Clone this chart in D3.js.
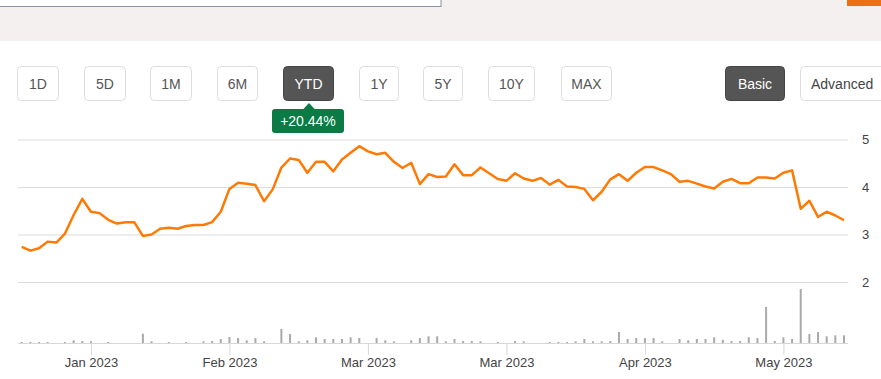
<!DOCTYPE html>
<html>
<head>
<meta charset="utf-8">
<script src="https://cdn.jsdelivr.net/npm/d3@7"></script>
<style>
  body { margin: 0; background: #fff; }
  svg { display: block; font-family: "Liberation Sans", Arial, sans-serif; }
</style>
</head>
<body>
<script>
// closing prices, one per trading session
var prices = [2.74, 2.66, 2.71, 2.85, 2.83, 3.02, 3.41, 3.75, 3.48, 3.45,
  3.31, 3.23, 3.26, 3.26, 2.97, 3.00, 3.12, 3.14, 3.12, 3.18,
  3.20, 3.20, 3.26, 3.48, 3.96, 4.09, 4.07, 4.04, 3.70, 3.95,
  4.41, 4.60, 4.57, 4.30, 4.53, 4.53, 4.33, 4.58, 4.72, 4.86,
  4.75, 4.69, 4.72, 4.53, 4.40, 4.51, 4.06, 4.27, 4.21, 4.22,
  4.48, 4.25, 4.25, 4.41, 4.29, 4.17, 4.13, 4.29, 4.18, 4.13,
  4.19, 4.05, 4.15, 4.01, 4.00, 3.96, 3.72, 3.90, 4.16, 4.27,
  4.13, 4.30, 4.42, 4.42, 4.35, 4.27, 4.11, 4.13, 4.07, 4.01,
  3.97, 4.11, 4.17, 4.08, 4.08, 4.20, 4.20, 4.18, 4.30, 4.35,
  3.54, 3.71, 3.37, 3.48, 3.40, 3.30];

// volume (thousands)
var volumes = [10, 10, 10, 10, 0, 10, 27, 20, 17, 0,
  10, 0, 0, 0, 93, 17, 0, 10, 0, 10,
  0, 17, 20, 40, 60, 50, 27, 50, 17, 0,
  140, 90, 17, 27, 57, 40, 40, 40, 57, 50,
  0, 50, 27, 17, 0, 27, 50, 67, 67, 17,
  40, 20, 20, 17, 0, 10, 0, 20, 17, 0,
  0, 10, 10, 10, 17, 40, 17, 17, 20, 110,
  40, 50, 50, 50, 17, 0, 40, 27, 40, 40,
  57, 33, 20, 20, 57, 50, 360, 20, 57, 40,
  540, 90, 110, 67, 77, 77];

var priceTicks = [2, 3, 4, 5];
var dateTickIdx = [8, 24, 40, 56, 72, 88];
var dateTickLabels = ["Jan 2023", "Feb 2023", "Mar 2023", "Mar 2023", "Apr 2023", "May 2023"];

var ranges = ["1D", "5D", "1M", "6M", "YTD", "1Y", "5Y", "10Y", "MAX"];
var views = ["Basic", "Advanced"];
var ytdChange = "+20.44%";

var width = 881, height = 379;
var left = 18, right = 848;

var svg = d3.select("body").append("svg")
    .attr("width", width)
    .attr("height", height);

// header band
svg.append("rect")
    .attr("x", 0).attr("y", 0)
    .attr("width", width).attr("height", 41)
    .attr("fill", "#f4f0ef");
svg.append("rect")
    .attr("x", -1).attr("y", -1)
    .attr("width", 442).attr("height", 7.5)
    .attr("fill", "#fff")
    .attr("stroke", "#8a93a5");
svg.append("rect")
    .attr("x", 847).attr("y", 0)
    .attr("width", 34).attr("height", 6)
    .attr("fill", "#ee6f0f");

// range buttons
var btnX = [17, 84, 150, 217, 283, 359, 423, 488, 561];
var btnW = [41, 41, 41, 40, 50, 39, 39, 46, 50];
var btns = svg.append("g").selectAll("g")
    .data(ranges)
    .join("g")
        .attr("transform", function(d, i) { return "translate(" + btnX[i] + ",66)"; });
btns.append("rect")
    .attr("x", 0.5).attr("y", 0.5)
    .attr("width", function(d, i) { return btnW[i]; })
    .attr("height", 34)
    .attr("rx", 4)
    .attr("fill", function(d) { return d == "YTD" ? "#555" : "#fff"; })
    .attr("stroke", function(d) { return d == "YTD" ? "#444" : "#ddd"; });
btns.append("text")
    .text(function(d) { return d; })
    .attr("x", function(d, i) { return btnW[i] / 2 + 0.5; })
    .attr("y", 22.5)
    .attr("text-anchor", "middle")
    .attr("font-size", 14)
    .attr("fill", function(d) { return d == "YTD" ? "#fff" : "#555"; });

var viewX = [725, 800], viewW = [59, 86];
var vbtns = svg.append("g").selectAll("g")
    .data(views)
    .join("g")
        .attr("transform", function(d, i) { return "translate(" + viewX[i] + ",66)"; });
vbtns.append("rect")
    .attr("x", 0.5).attr("y", 0.5)
    .attr("width", function(d, i) { return viewW[i]; })
    .attr("height", 34)
    .attr("rx", 4)
    .attr("fill", function(d) { return d == "Basic" ? "#555" : "#fff"; })
    .attr("stroke", function(d) { return d == "Basic" ? "#444" : "#ddd"; });
vbtns.append("text")
    .text(function(d) { return d; })
    .attr("x", function(d, i) { return i == 0 ? viewW[i] / 2 + 0.5 : 11; })
    .attr("y", 22.5)
    .attr("text-anchor", function(d, i) { return i == 0 ? "middle" : "start"; })
    .attr("font-size", 14)
    .attr("fill", function(d) { return d == "Basic" ? "#fff" : "#444"; });

// YTD change badge
var badge = svg.append("g").attr("transform", "translate(272,109)");
badge.append("rect")
    .attr("width", 72).attr("height", 24)
    .attr("rx", 3)
    .attr("fill", "#0b7a45");
badge.append("path")
    .attr("d", "M31,0.5 L37,-6 L43,0.5 Z")
    .attr("fill", "#0b7a45");
badge.append("text")
    .text(ytdChange)
    .attr("x", 36).attr("y", 17)
    .attr("text-anchor", "middle")
    .attr("font-size", 14)
    .attr("fill", "#fff");

// scales
var xScale = d3.scaleLinear()
    .domain([0, prices.length - 1])
    .range([21.7, 844]);

var yScale = d3.scaleLinear()
    .domain([2, 5])
    .range([282, 139.5]);

var vScale = d3.scaleLinear()
    .domain([0, 600])
    .range([343, 283]);

// grid lines + right labels
svg.append("g")
    .attr("transform", "translate(" + right + ",0)")
    .call(d3.axisRight(yScale)
        .tickValues(priceTicks)
        .tickFormat(d3.format("d"))
        .tickSize(-(right - left))
        .tickPadding(14))
    .call(function(g) { g.select(".domain").remove(); })
    .call(function(g) {
        g.selectAll(".tick line").attr("stroke", "#dcdcdc");
        g.selectAll(".tick text")
            .attr("font-size", 13)
            .attr("font-family", "Liberation Sans, Arial, sans-serif")
            .attr("fill", "#444");
    });

// volume bars
svg.append("g").selectAll("rect")
    .data(volumes)
    .join("rect")
        .attr("x", function(d, i) { return xScale(i) - 1; })
        .attr("y", function(d) { return vScale(d); })
        .attr("width", 2)
        .attr("height", function(d) { return vScale(0) - vScale(d); })
        .attr("fill", "#aaa");

// date axis
svg.append("g")
    .attr("transform", "translate(0,343)")
    .call(d3.axisBottom(xScale)
        .tickValues(dateTickIdx)
        .tickFormat(function(d, i) { return dateTickLabels[i]; })
        .tickSize(12)
        .tickSizeOuter(0)
        .tickPadding(3))
    .call(function(g) {
        g.select(".domain")
            .attr("d", "M" + left + ",0.5H" + right)
            .attr("stroke", "#d8d8d8");
        g.selectAll(".tick line").attr("stroke", "#d8d8d8");
        g.selectAll(".tick text")
            .attr("font-size", 13)
            .attr("font-family", "Liberation Sans, Arial, sans-serif")
            .attr("fill", "#444");
    });

// price line
var line = d3.line()
    .x(function(d, i) { return xScale(i); })
    .y(function(d) { return yScale(d); });

svg.append("path")
    .datum(prices)
    .attr("d", line)
    .attr("fill", "none")
    .attr("stroke", "#ff7a05")
    .attr("stroke-width", 2.5)
    .attr("stroke-linejoin", "round");
</script>
</body>
</html>
